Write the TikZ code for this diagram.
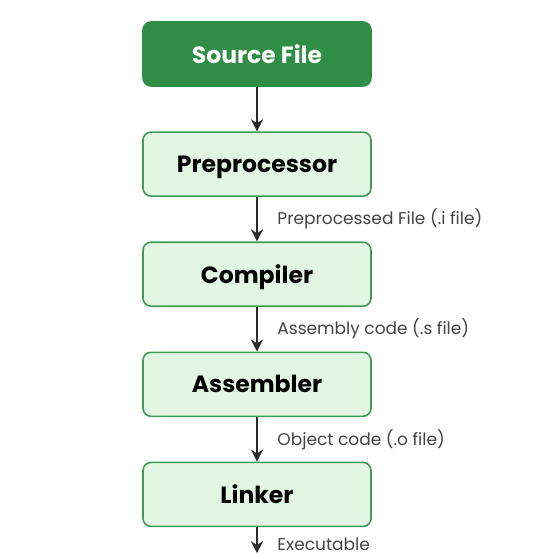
\documentclass[tikz,border=0pt]{standalone}
\usepackage{fontspec}
\setmainfont{Poppins}
\usetikzlibrary{positioning,arrows.meta}
\definecolor{gfgdark}{HTML}{2F8D46}
\definecolor{gfglight}{HTML}{E2F6E3}
\definecolor{gfgline}{HTML}{3E9C54}
\definecolor{arrowgray}{HTML}{2B2B2B}
\definecolor{labelgray}{HTML}{444444}
\tikzset{stage/.style={shape=rectangle, rounded corners=8pt, minimum width=228pt,
  minimum height=64pt, inner sep=0, text depth=0pt, draw=gfgline, line width=1.6pt,
  fill=gfglight, font=\bfseries\fontsize{23.5}{28}\selectfont, text=black},
  source/.style={stage, draw=gfgdark, fill=gfgdark, text=white},
  flow/.style={draw=arrowgray, line width=2.2pt, -{Stealth[length=12pt, width=12pt]}},
  tag/.style={anchor=west, text=labelgray, font=\fontsize{17}{20}\selectfont}}

\begin{document}
\begin{tikzpicture}[x=1pt, y=-1pt, node distance=44.5pt]
    \useasboundingbox (0,0) rectangle (541,559);
    \node [source] at (257,54) (s-0) {Source File};
    \foreach \slabel [count=\i, evaluate={\ii=int(\i-1);}]
    in {Preprocessor, Compiler, Assembler, Linker}{
            \node [stage, below=of s-\ii] (s-\i) {\slabel};
        }
    \coordinate [below=26pt of s-4] (out);
    \draw [flow] (s-0) -- (s-1);
    \foreach \tlabel [count=\i, evaluate={\j=int(\i+1);}]
    in {Preprocessed File (.i file), Assembly code (.s file), Object code (.o file)}{
            \draw [flow] (s-\i) -- node [tag, xshift=16pt] {\tlabel} (s-\j);
        }
    \draw [flow] (s-4) -- node [tag, xshift=16pt, yshift=-4pt] {Executable} (out);
\end{tikzpicture}
\end{document}
